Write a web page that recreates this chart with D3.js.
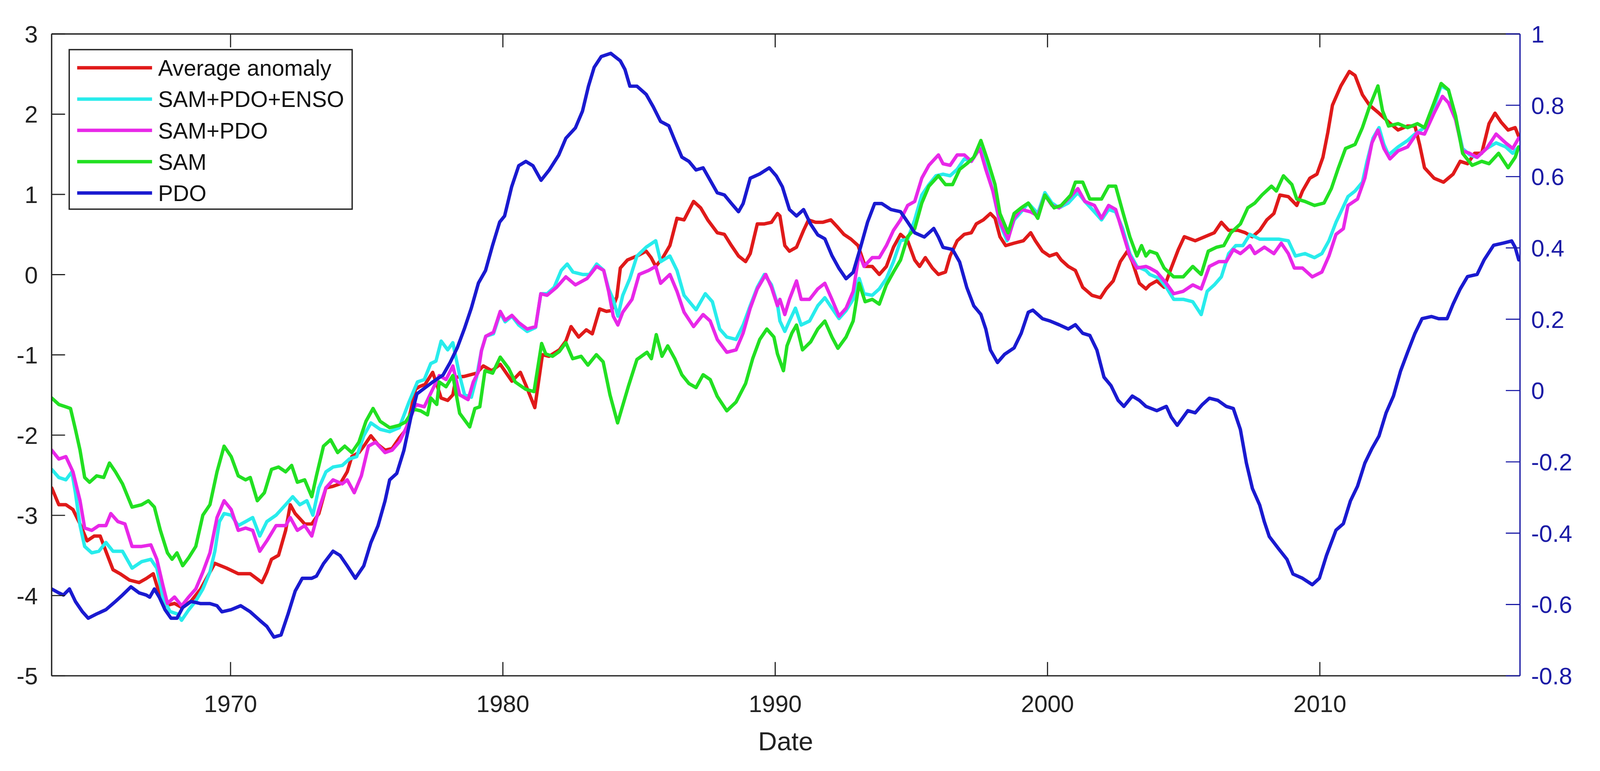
<!DOCTYPE html>
<html>
<head>
<meta charset="utf-8">
<script src="https://cdn.jsdelivr.net/npm/d3@7"></script>
<style>
  html, body { margin: 0; padding: 0; background: #fff; overflow: hidden; }
  svg { display: block; }
  text { font-family: "Liberation Sans", Arial, Helvetica, sans-serif; }
</style>
</head>
<body>
<script>
// series: [year, value]
var avgAnomaly = [
  [1963.44,-2.66],[1963.70,-2.87],[1963.96,-2.87],[1964.22,-2.93],[1964.48,-3.11],[1964.74,-3.32],[1965.00,-3.26],[1965.22,-3.26],
  [1965.43,-3.45],[1965.69,-3.68],[1965.95,-3.73],[1966.30,-3.81],[1966.65,-3.84],[1966.91,-3.79],[1967.17,-3.73],[1967.34,-3.92],
  [1967.60,-4.13],[1967.95,-4.10],[1968.21,-4.15],[1968.56,-4.07],[1968.91,-3.92],[1969.17,-3.76],[1969.43,-3.60],[1969.86,-3.66],
  [1970.29,-3.73],[1970.73,-3.73],[1971.16,-3.84],[1971.34,-3.71],[1971.51,-3.55],[1971.77,-3.50],[1972.03,-3.19],[1972.20,-2.87],
  [1972.38,-2.98],[1972.73,-3.11],[1972.99,-3.11],[1973.25,-2.98],[1973.51,-2.66],[1973.77,-2.64],[1974.03,-2.61],[1974.29,-2.46],
  [1974.46,-2.27],[1974.72,-2.22],[1974.90,-2.14],[1975.16,-2.01],[1975.42,-2.12],[1975.68,-2.19],[1975.94,-2.17],[1976.20,-2.04],
  [1976.46,-1.93],[1976.62,-1.70],[1976.80,-1.43],[1976.93,-1.40],[1977.15,-1.37],[1977.43,-1.22],[1977.55,-1.34],[1977.74,-1.54],
  [1977.98,-1.57],[1978.17,-1.50],[1978.29,-1.28],[1978.60,-1.27],[1979.04,-1.23],[1979.29,-1.14],[1979.60,-1.20],[1979.91,-1.12],
  [1980.34,-1.33],[1980.65,-1.22],[1980.84,-1.37],[1981.18,-1.66],[1981.46,-1.00],[1981.70,-1.02],[1982.08,-0.94],[1982.32,-0.83],
  [1982.51,-0.65],[1982.79,-0.78],[1983.07,-0.69],[1983.29,-0.74],[1983.56,-0.43],[1983.81,-0.46],[1984.00,-0.45],[1984.19,-0.28],
  [1984.32,0.08],[1984.58,0.18],[1984.93,0.23],[1985.27,0.29],[1985.45,0.21],[1985.62,0.10],[1985.88,0.21],
  [1986.14,0.36],[1986.40,0.70],[1986.66,0.68],[1987.01,0.91],[1987.27,0.83],[1987.53,0.68],[1987.88,0.52],[1988.14,0.50],
  [1988.40,0.36],[1988.66,0.23],[1988.92,0.16],[1989.09,0.26],[1989.35,0.63],[1989.61,0.63],[1989.87,0.65],[1990.09,0.76],
  [1990.18,0.73],[1990.36,0.36],[1990.53,0.29],[1990.79,0.34],[1991.05,0.55],[1991.23,0.68],[1991.49,0.65],[1991.75,0.65],
  [1992.05,0.68],[1992.27,0.60],[1992.53,0.50],[1992.79,0.44],[1993.05,0.36],[1993.31,0.10],[1993.57,0.10],[1993.83,0.00],
  [1994.09,0.10],[1994.35,0.34],[1994.61,0.50],[1994.87,0.42],[1995.13,0.18],[1995.31,0.10],[1995.52,0.21],[1995.78,0.08],
  [1996.00,0.00],[1996.26,0.03],[1996.43,0.23],[1996.69,0.42],[1996.95,0.50],[1997.21,0.52],[1997.39,0.63],[1997.65,0.68],
  [1997.91,0.76],[1998.08,0.70],[1998.26,0.47],[1998.47,0.36],[1998.78,0.39],[1999.12,0.42],[1999.39,0.52],[1999.56,0.42],
  [1999.82,0.29],[2000.08,0.23],[2000.34,0.26],[2000.51,0.18],[2000.77,0.10],[2001.03,0.05],[2001.30,-0.16],[2001.64,-0.26],
  [2001.95,-0.29],[2002.16,-0.18],[2002.42,-0.08],[2002.68,0.16],[2002.94,0.29],[2003.12,0.16],[2003.38,-0.11],[2003.62,-0.18],
  [2003.76,-0.13],[2004.02,-0.08],[2004.29,-0.16],[2004.55,0.08],[2004.81,0.31],[2005.03,0.47],[2005.43,0.42],[2005.78,0.47],
  [2006.13,0.52],[2006.39,0.65],[2006.66,0.55],[2007.01,0.55],[2007.27,0.52],[2007.53,0.47],[2007.80,0.55],[2008.06,0.68],
  [2008.32,0.76],[2008.54,0.99],[2008.85,0.97],[2009.16,0.86],[2009.37,1.04],[2009.64,1.20],[2009.90,1.25],[2010.12,1.46],
  [2010.30,1.77],[2010.47,2.11],[2010.78,2.35],[2011.09,2.53],[2011.30,2.48],[2011.57,2.24],[2011.83,2.11],[2012.18,2.01],
  [2012.53,1.90],[2012.88,1.80],[2013.23,1.85],[2013.50,1.85],[2013.67,1.62],[2013.85,1.33],[2014.20,1.20],[2014.55,1.15],
  [2014.90,1.25],[2015.16,1.41],[2015.43,1.38],[2015.69,1.51],[2015.95,1.51],[2016.22,1.88],[2016.44,2.01],[2016.66,1.90],
  [2016.92,1.80],[2017.18,1.83],[2017.31,1.72]
];

var samPdoEnso = [
  [1963.44,-2.43],[1963.70,-2.53],[1963.96,-2.56],[1964.18,-2.46],[1964.31,-2.72],[1964.48,-3.13],[1964.65,-3.39],[1964.91,-3.47],
  [1965.17,-3.45],[1965.43,-3.34],[1965.69,-3.45],[1966.04,-3.45],[1966.39,-3.66],[1966.74,-3.58],[1967.08,-3.55],[1967.30,-3.66],
  [1967.52,-4.02],[1967.78,-4.20],[1968.04,-4.23],[1968.21,-4.31],[1968.47,-4.18],[1968.73,-4.07],[1968.99,-3.92],[1969.25,-3.71],
  [1969.43,-3.45],[1969.60,-3.08],[1969.77,-2.98],[1970.03,-3.00],[1970.29,-3.13],[1970.56,-3.08],[1970.82,-3.03],[1971.08,-3.26],
  [1971.34,-3.08],[1971.68,-3.00],[1972.03,-2.87],[1972.29,-2.77],[1972.55,-2.87],[1972.81,-2.82],[1973.03,-3.00],[1973.25,-2.66],
  [1973.51,-2.46],[1973.77,-2.40],[1974.11,-2.38],[1974.37,-2.30],[1974.64,-2.27],[1974.90,-2.01],[1975.16,-1.85],[1975.50,-1.93],
  [1975.85,-1.96],[1976.20,-1.91],[1976.56,-1.59],[1976.87,-1.34],[1977.12,-1.31],[1977.36,-1.11],[1977.55,-1.08],[1977.74,-0.83],
  [1977.98,-0.94],[1978.17,-0.85],[1978.42,-1.26],[1978.60,-1.50],[1978.85,-1.53],[1979.04,-1.28],[1979.22,-0.95],[1979.38,-0.77],
  [1979.66,-0.74],[1979.91,-0.48],[1980.09,-0.59],[1980.34,-0.52],[1980.59,-0.63],[1980.90,-0.71],[1981.21,-0.66],[1981.40,-0.24],
  [1981.63,-0.24],[1981.89,-0.16],[1982.15,0.05],[1982.37,0.13],[1982.58,0.03],[1982.93,0.00],[1983.19,0.00],
  [1983.45,0.13],[1983.71,0.05],[1983.89,-0.18],[1984.06,-0.31],[1984.23,-0.52],[1984.41,-0.26],[1984.67,-0.05],[1984.93,0.23],
  [1985.27,0.34],[1985.62,0.42],[1985.80,0.16],[1986.14,0.23],[1986.40,0.05],[1986.66,-0.26],[1987.10,-0.44],[1987.44,-0.24],
  [1987.70,-0.34],[1987.97,-0.68],[1988.23,-0.78],[1988.57,-0.81],[1988.83,-0.63],[1989.09,-0.39],[1989.35,-0.16],[1989.61,0.00],
  [1989.87,-0.13],[1990.09,-0.37],[1990.18,-0.58],[1990.36,-0.71],[1990.53,-0.58],[1990.75,-0.42],[1990.96,-0.63],[1991.27,-0.58],
  [1991.57,-0.39],[1991.83,-0.29],[1992.09,-0.42],[1992.35,-0.55],[1992.61,-0.45],[1992.87,-0.31],[1993.09,-0.05],[1993.27,-0.24],
  [1993.57,-0.26],[1993.83,-0.18],[1994.09,-0.05],[1994.35,0.16],[1994.61,0.42],[1994.87,0.44],[1995.13,0.68],[1995.39,0.99],
  [1995.65,1.12],[1995.91,1.23],[1996.17,1.25],[1996.43,1.23],[1996.69,1.31],[1996.95,1.44],[1997.21,1.41],[1997.52,1.59],
  [1997.74,1.36],[1998.00,1.04],[1998.26,0.63],[1998.52,0.42],[1998.78,0.68],[1999.04,0.78],[1999.30,0.89],[1999.65,0.76],
  [1999.91,1.02],[2000.17,0.89],[2000.43,0.83],[2000.77,0.89],[2001.12,1.02],[2001.38,0.91],[2001.73,0.78],[2001.99,0.68],
  [2002.25,0.81],[2002.51,0.78],[2002.77,0.57],[2003.03,0.26],[2003.29,0.10],[2003.62,0.05],[2003.76,0.00],[2004.11,-0.05],
  [2004.37,-0.16],[2004.64,-0.31],[2004.99,-0.31],[2005.34,-0.34],[2005.65,-0.50],[2005.87,-0.21],[2006.13,-0.13],[2006.39,-0.03],
  [2006.66,0.26],[2006.92,0.36],[2007.18,0.36],[2007.44,0.50],[2007.80,0.44],[2008.15,0.44],[2008.50,0.44],[2008.85,0.42],
  [2009.11,0.23],[2009.46,0.26],[2009.81,0.21],[2010.08,0.26],[2010.34,0.42],[2010.60,0.65],[2010.78,0.78],[2011.04,0.97],
  [2011.30,1.04],[2011.57,1.15],[2011.74,1.41],[2011.96,1.70],[2012.18,1.83],[2012.36,1.62],[2012.53,1.49],[2012.88,1.59],
  [2013.23,1.67],[2013.50,1.75],[2013.85,1.83],[2014.20,2.09],[2014.46,2.35],[2014.73,2.30],[2014.99,1.96],[2015.25,1.57],
  [2015.51,1.49],[2015.78,1.46],[2016.13,1.57],[2016.48,1.64],[2016.83,1.59],[2017.09,1.51],[2017.31,1.59]
];

var samPdo = [
  [1963.44,-2.19],[1963.70,-2.30],[1963.96,-2.27],[1964.22,-2.46],[1964.48,-2.82],[1964.65,-3.16],[1964.91,-3.19],[1965.17,-3.13],
  [1965.43,-3.13],[1965.61,-2.98],[1965.87,-3.08],[1966.13,-3.11],[1966.39,-3.39],[1966.74,-3.39],[1967.08,-3.37],[1967.30,-3.55],
  [1967.52,-3.87],[1967.69,-4.10],[1967.95,-4.02],[1968.21,-4.13],[1968.47,-4.02],[1968.73,-3.92],[1968.99,-3.71],[1969.25,-3.47],
  [1969.51,-3.03],[1969.77,-2.82],[1970.03,-2.93],[1970.29,-3.19],[1970.56,-3.16],[1970.82,-3.19],[1971.08,-3.45],[1971.34,-3.32],
  [1971.68,-3.13],[1972.03,-3.13],[1972.20,-3.03],[1972.46,-3.19],[1972.73,-3.13],[1972.99,-3.26],[1973.25,-2.93],[1973.51,-2.66],
  [1973.77,-2.56],[1974.11,-2.61],[1974.29,-2.56],[1974.55,-2.72],[1974.81,-2.51],[1975.07,-2.14],[1975.33,-2.09],[1975.68,-2.22],
  [1975.94,-2.19],[1976.22,-2.08],[1976.50,-1.88],[1976.81,-1.62],[1977.12,-1.65],[1977.36,-1.48],[1977.67,-1.26],[1977.92,-1.31],
  [1978.17,-1.14],[1978.42,-1.50],[1978.73,-1.56],[1978.92,-1.34],[1979.10,-1.22],[1979.22,-0.95],[1979.38,-0.77],[1979.66,-0.72],
  [1979.91,-0.46],[1980.09,-0.57],[1980.34,-0.51],[1980.59,-0.60],[1980.90,-0.68],[1981.21,-0.65],[1981.40,-0.24],[1981.63,-0.26],
  [1981.98,-0.16],[1982.32,-0.03],[1982.67,-0.13],[1983.10,-0.05],[1983.45,0.10],[1983.71,0.05],[1983.89,-0.21],[1984.06,-0.52],
  [1984.23,-0.63],[1984.41,-0.47],[1984.75,-0.31],[1985.01,0.00],[1985.36,0.05],[1985.62,0.10],[1985.80,-0.11],[1986.14,0.00],
  [1986.40,-0.21],[1986.66,-0.47],[1987.01,-0.65],[1987.36,-0.50],[1987.62,-0.58],[1987.88,-0.81],[1988.23,-0.97],[1988.57,-0.94],
  [1988.83,-0.73],[1989.09,-0.42],[1989.35,-0.18],[1989.66,0.00],[1989.87,-0.16],[1990.09,-0.39],[1990.18,-0.31],[1990.36,-0.50],
  [1990.53,-0.31],[1990.79,-0.08],[1990.96,-0.31],[1991.27,-0.31],[1991.57,-0.18],[1991.83,-0.11],[1992.09,-0.31],[1992.35,-0.52],
  [1992.61,-0.42],[1992.87,-0.21],[1993.09,0.26],[1993.27,0.10],[1993.57,0.21],[1993.83,0.21],[1994.09,0.36],[1994.35,0.55],
  [1994.61,0.68],[1994.87,0.86],[1995.13,0.91],[1995.39,1.20],[1995.65,1.36],[1996.00,1.49],[1996.17,1.38],[1996.43,1.36],
  [1996.69,1.49],[1996.95,1.49],[1997.21,1.41],[1997.52,1.57],[1997.74,1.31],[1998.00,1.04],[1998.26,0.65],[1998.56,0.44],
  [1998.78,0.70],[1999.04,0.81],[1999.39,0.78],[1999.65,0.73],[1999.91,0.99],[2000.17,0.86],[2000.43,0.83],[2000.77,0.94],
  [2001.12,1.07],[2001.38,0.91],[2001.73,0.86],[2001.99,0.70],[2002.25,0.86],[2002.51,0.81],[2002.77,0.52],[2003.03,0.23],
  [2003.29,0.08],[2003.62,0.10],[2003.76,0.08],[2004.02,0.03],[2004.37,-0.11],[2004.64,-0.24],[2004.99,-0.21],[2005.34,-0.13],
  [2005.65,-0.18],[2005.95,0.10],[2006.30,0.16],[2006.57,0.16],[2006.83,0.31],[2007.09,0.26],[2007.27,0.31],[2007.44,0.36],
  [2007.62,0.26],[2007.97,0.34],[2008.32,0.26],[2008.59,0.39],[2008.85,0.26],[2009.07,0.08],[2009.37,0.08],[2009.73,-0.03],
  [2010.08,0.03],[2010.34,0.23],[2010.60,0.50],[2010.87,0.57],[2011.04,0.86],[2011.39,0.94],[2011.66,1.20],[2011.92,1.64],
  [2012.14,1.80],[2012.36,1.57],[2012.58,1.44],[2012.88,1.54],[2013.23,1.59],[2013.59,1.77],[2013.85,1.75],[2014.20,2.01],
  [2014.51,2.22],[2014.73,2.14],[2014.99,1.93],[2015.25,1.54],[2015.51,1.51],[2015.78,1.46],[2016.13,1.57],[2016.48,1.75],
  [2016.83,1.64],[2017.09,1.57],[2017.31,1.70]
];

var sam = [
  [1963.44,-1.54],[1963.70,-1.62],[1963.96,-1.65],[1964.13,-1.67],[1964.31,-1.93],[1964.48,-2.19],[1964.65,-2.53],[1964.83,-2.59],
  [1965.09,-2.51],[1965.35,-2.53],[1965.56,-2.35],[1965.78,-2.46],[1966.04,-2.61],[1966.39,-2.90],[1966.74,-2.87],[1966.99,-2.82],
  [1967.21,-2.90],[1967.43,-3.19],[1967.69,-3.47],[1967.86,-3.55],[1968.04,-3.47],[1968.25,-3.63],[1968.47,-3.53],[1968.73,-3.39],
  [1968.99,-3.00],[1969.25,-2.87],[1969.51,-2.46],[1969.77,-2.14],[1970.03,-2.27],[1970.29,-2.51],[1970.56,-2.56],[1970.73,-2.53],
  [1970.99,-2.82],[1971.25,-2.72],[1971.51,-2.43],[1971.77,-2.40],[1972.03,-2.46],[1972.25,-2.38],[1972.46,-2.59],[1972.73,-2.56],
  [1972.99,-2.77],[1973.16,-2.51],[1973.42,-2.14],[1973.68,-2.06],[1973.94,-2.22],[1974.20,-2.14],[1974.46,-2.22],[1974.72,-2.09],
  [1974.98,-1.83],[1975.24,-1.67],[1975.50,-1.83],[1975.85,-1.91],[1976.20,-1.88],[1976.43,-1.84],[1976.74,-1.68],[1976.99,-1.70],
  [1977.24,-1.75],[1977.36,-1.54],[1977.58,-1.62],[1977.67,-1.34],[1977.92,-1.40],[1978.17,-1.26],[1978.42,-1.73],[1978.79,-1.90],
  [1978.98,-1.67],[1979.16,-1.65],[1979.35,-1.20],[1979.63,-1.23],[1979.91,-1.03],[1980.22,-1.17],[1980.46,-1.34],[1980.84,-1.43],
  [1981.15,-1.46],[1981.43,-0.86],[1981.58,-0.99],[1981.83,-1.02],[1982.08,-0.96],[1982.32,-0.85],[1982.57,-1.05],[1982.88,-1.02],
  [1983.13,-1.13],[1983.44,-1.00],[1983.69,-1.09],[1983.94,-1.50],[1984.22,-1.85],[1984.62,-1.39],[1984.93,-1.06],[1985.30,-0.97],
  [1985.46,-1.05],[1985.64,-0.75],[1985.85,-1.02],[1986.06,-0.89],[1986.32,-1.05],[1986.58,-1.25],[1986.84,-1.36],[1987.10,-1.41],
  [1987.36,-1.25],[1987.62,-1.31],[1987.88,-1.52],[1988.23,-1.70],[1988.57,-1.59],[1988.92,-1.36],[1989.18,-1.05],[1989.44,-0.81],
  [1989.70,-0.68],[1989.96,-0.78],[1990.09,-0.99],[1990.31,-1.20],[1990.44,-0.89],[1990.62,-0.73],[1990.79,-0.63],[1991.01,-0.94],
  [1991.31,-0.84],[1991.57,-0.68],[1991.83,-0.58],[1992.09,-0.78],[1992.31,-0.92],[1992.61,-0.78],[1992.87,-0.58],[1993.09,-0.11],
  [1993.31,-0.34],[1993.57,-0.31],[1993.83,-0.37],[1994.09,-0.13],[1994.35,0.03],[1994.61,0.18],[1994.87,0.47],[1995.13,0.57],
  [1995.39,0.89],[1995.65,1.10],[1996.00,1.23],[1996.26,1.12],[1996.52,1.12],[1996.78,1.31],[1997.04,1.38],[1997.30,1.46],
  [1997.56,1.67],[1997.82,1.41],[1998.08,1.12],[1998.26,0.76],[1998.56,0.52],[1998.78,0.76],[1999.04,0.83],[1999.30,0.89],
  [1999.65,0.70],[1999.91,0.99],[2000.25,0.83],[2000.51,0.86],[2000.86,0.99],[2001.03,1.15],[2001.30,1.15],[2001.56,0.94],
  [2001.99,0.94],[2002.25,1.10],[2002.51,1.10],[2002.77,0.78],[2003.03,0.47],[2003.29,0.23],[2003.46,0.36],[2003.62,0.23],
  [2003.76,0.29],[2004.02,0.26],[2004.29,0.08],[2004.64,-0.03],[2004.99,-0.03],[2005.34,0.10],[2005.65,0.00],[2005.91,0.29],
  [2006.22,0.34],[2006.48,0.36],[2006.74,0.52],[2007.09,0.63],[2007.36,0.83],[2007.62,0.89],[2007.88,0.99],[2008.23,1.10],
  [2008.41,1.04],[2008.67,1.23],[2008.98,1.12],[2009.16,0.94],[2009.46,0.91],[2009.81,0.86],[2010.16,0.89],[2010.43,1.07],
  [2010.69,1.33],[2010.95,1.57],[2011.30,1.62],[2011.57,1.83],[2011.83,2.09],[2012.14,2.35],[2012.31,2.04],[2012.53,1.85],
  [2012.88,1.88],[2013.23,1.83],[2013.59,1.88],[2013.85,1.83],[2014.20,2.14],[2014.46,2.38],[2014.73,2.30],[2014.99,1.98],
  [2015.25,1.51],[2015.60,1.36],[2015.95,1.41],[2016.22,1.38],[2016.57,1.51],[2016.92,1.33],[2017.18,1.46],[2017.31,1.59]
];

// PDO goes on the right-hand axis
var pdo = [
  [1963.44,-0.557],[1963.70,-0.568],[1963.87,-0.574],[1964.09,-0.557],[1964.31,-0.592],[1964.57,-0.621],[1964.78,-0.639],[1965.09,-0.627],
  [1965.43,-0.615],[1965.78,-0.592],[1966.04,-0.574],[1966.35,-0.551],[1966.65,-0.568],[1966.91,-0.574],[1967.04,-0.580],[1967.21,-0.557],
  [1967.39,-0.580],[1967.60,-0.615],[1967.82,-0.639],[1968.04,-0.639],[1968.25,-0.609],[1968.56,-0.592],[1968.91,-0.598],[1969.25,-0.598],
  [1969.51,-0.604],[1969.69,-0.621],[1970.03,-0.615],[1970.38,-0.604],[1970.73,-0.621],[1971.08,-0.645],[1971.34,-0.662],[1971.60,-0.692],
  [1971.86,-0.686],[1972.12,-0.627],[1972.38,-0.563],[1972.64,-0.527],[1972.99,-0.527],[1973.16,-0.521],[1973.42,-0.486],[1973.77,-0.451],
  [1974.03,-0.463],[1974.29,-0.492],[1974.59,-0.527],[1974.90,-0.492],[1975.16,-0.427],[1975.42,-0.380],[1975.68,-0.310],[1975.85,-0.251],
  [1976.11,-0.233],[1976.37,-0.169],[1976.63,-0.075],[1976.85,-0.010],[1977.11,0.005],[1977.46,0.025],[1977.81,0.043],[1978.07,0.078],
  [1978.33,0.119],[1978.59,0.172],[1978.85,0.231],[1979.11,0.301],[1979.37,0.336],[1979.63,0.407],[1979.89,0.472],[1980.07,0.489],
  [1980.33,0.571],[1980.59,0.630],[1980.85,0.642],[1981.11,0.630],[1981.41,0.589],[1981.71,0.618],[1982.06,0.660],[1982.32,0.707],
  [1982.67,0.736],[1982.93,0.783],[1983.15,0.853],[1983.36,0.906],[1983.62,0.936],[1983.97,0.945],[1984.32,0.924],[1984.49,0.900],
  [1984.67,0.853],[1984.93,0.853],[1985.27,0.830],[1985.53,0.795],[1985.80,0.754],[1986.10,0.742],[1986.32,0.701],[1986.58,0.654],
  [1986.84,0.642],[1987.10,0.618],[1987.36,0.624],[1987.62,0.589],[1987.88,0.554],[1988.14,0.548],[1988.40,0.524],[1988.66,0.501],
  [1988.83,0.524],[1989.09,0.595],[1989.44,0.607],[1989.79,0.624],[1990.05,0.601],[1990.27,0.571],[1990.53,0.507],[1990.79,0.489],
  [1991.05,0.507],[1991.31,0.466],[1991.57,0.436],[1991.83,0.425],[1992.09,0.378],[1992.35,0.342],[1992.61,0.313],[1992.87,0.331],
  [1993.14,0.401],[1993.40,0.472],[1993.66,0.524],[1993.92,0.524],[1994.26,0.507],[1994.61,0.501],[1994.87,0.472],[1995.13,0.442],
  [1995.48,0.430],[1995.83,0.454],[1996.00,0.430],[1996.17,0.401],[1996.52,0.395],[1996.78,0.360],[1997.04,0.289],[1997.30,0.237],
  [1997.56,0.213],[1997.74,0.172],[1997.91,0.113],[1998.17,0.078],[1998.43,0.101],[1998.78,0.119],[1999.04,0.160],[1999.30,0.219],
  [1999.47,0.225],[1999.82,0.201],[2000.08,0.195],[2000.43,0.184],[2000.77,0.172],[2001.03,0.184],[2001.30,0.160],[2001.56,0.154],
  [2001.82,0.113],[2002.08,0.037],[2002.34,0.013],[2002.60,-0.028],[2002.81,-0.045],[2003.12,-0.016],[2003.38,-0.028],[2003.62,-0.045],
  [2004.02,-0.057],[2004.37,-0.045],[2004.55,-0.075],[2004.77,-0.098],[2005.16,-0.057],[2005.43,-0.063],[2005.69,-0.040],[2005.95,-0.022],
  [2006.26,-0.028],[2006.57,-0.045],[2006.83,-0.051],[2007.09,-0.110],[2007.31,-0.204],[2007.53,-0.275],[2007.80,-0.322],[2007.97,-0.369],
  [2008.15,-0.410],[2008.50,-0.445],[2008.80,-0.474],[2009.02,-0.515],[2009.37,-0.527],[2009.73,-0.545],[2009.99,-0.527],[2010.25,-0.463],
  [2010.60,-0.392],[2010.87,-0.374],[2011.13,-0.310],[2011.39,-0.269],[2011.66,-0.204],[2011.92,-0.163],[2012.18,-0.128],[2012.44,-0.063],
  [2012.71,-0.016],[2012.97,0.054],[2013.23,0.107],[2013.50,0.160],[2013.76,0.201],[2014.11,0.207],[2014.37,0.201],[2014.68,0.201],
  [2014.90,0.242],[2015.16,0.284],[2015.43,0.319],[2015.78,0.325],[2016.04,0.366],[2016.39,0.407],[2016.74,0.413],[2017.05,0.419],
  [2017.18,0.401],[2017.31,0.366]
];

var legendLabels = ["Average anomaly", "SAM+PDO+ENSO", "SAM+PDO", "SAM", "PDO"];
var xTicks = [1970, 1980, 1990, 2000, 2010];
var leftTicks = [-5, -4, -3, -2, -1, 0, 1, 2, 3];
var rightTicks = [-0.8, -0.6, -0.4, -0.2, 0, 0.2, 0.4, 0.6, 0.8, 1];

var W = 4230, H = 1975;
var margin = {top: 57, right: 212, bottom: 220, left: 136};
var width = W - margin.left - margin.right,
    height = H - margin.top - margin.bottom;

var axisBlue = "#1c1ca6";
var tickFont = 63;

// viewBox so the whole figure fits whatever the viewport turns out to be
var svg = d3.select("body").append("svg")
    .attr("viewBox", "0 0 " + W + " " + H)
    .attr("preserveAspectRatio", "xMidYMid meet")
    .style("width", "100vw")
    .style("height", "100vh");

svg.append("rect").attr("width", W).attr("height", H).attr("fill", "#fff");

var g = svg.append("g")
    .attr("transform", "translate(" + margin.left + "," + margin.top + ")");

var x = d3.scaleLinear().domain([1963.43, 2017.35]).range([0, width]);
var yL = d3.scaleLinear().domain([-5, 3]).range([height, 0]);
var yR = d3.scaleLinear().domain([-0.8, 1]).range([height, 0]);

g.append("clipPath").attr("id", "plotclip")
  .append("rect").attr("width", width).attr("height", height);

var series = [
  {data: avgAnomaly, color: "#e01a1a", y: yL},
  {data: samPdoEnso, color: "#28ecec", y: yL},
  {data: samPdo,     color: "#e828e8", y: yL},
  {data: sam,        color: "#22e022", y: yL},
  {data: pdo,        color: "#1a1ad0", y: yR}
];

var lines = g.append("g").attr("clip-path", "url(#plotclip)");
series.forEach(function(s) {
  var line = d3.line()
      .x(function(d) { return x(d[0]); })
      .y(function(d) { return s.y(d[1]); });
  lines.append("path")
      .datum(s.data)
      .attr("fill", "none")
      .attr("stroke", s.color)
      .attr("stroke-width", 9)
      .attr("stroke-linejoin", "round")
      .attr("stroke-linecap", "round")
      .attr("d", line);
});

// plain hyphen for negatives, like the original
function num(d) { return String(+d.toFixed(1)); }

function styleAxis(sel, color) {
  sel.select(".domain").attr("stroke", color).attr("stroke-width", 3.5);
  sel.selectAll(".tick line").attr("stroke", color).attr("stroke-width", 3);
  sel.selectAll(".tick text")
      .attr("fill", color)
      .style("font-size", tickFont + "px")
      .style("font-family", "'Liberation Sans', Arial, sans-serif");
}

// bottom and top
var xb = g.append("g")
    .attr("transform", "translate(0," + height + ")")
    .call(d3.axisBottom(x).tickValues(xTicks).tickFormat(num)
      .tickSize(-36).tickSizeOuter(0).tickPadding(52));
styleAxis(xb, "#222");

var xt = g.append("g")
    .call(d3.axisTop(x).tickValues(xTicks).tickFormat("")
      .tickSize(-36).tickSizeOuter(0));
styleAxis(xt, "#222");

// left axis
var yl = g.append("g")
    .call(d3.axisLeft(yL).tickValues(leftTicks).tickFormat(num)
      .tickSize(-36).tickSizeOuter(0).tickPadding(36));
styleAxis(yl, "#222");
yl.selectAll(".tick text").attr("dy", "0.36em");

// right axis (PDO)
var yr = g.append("g")
    .attr("transform", "translate(" + width + ",0)")
    .call(d3.axisRight(yR).tickValues(rightTicks).tickFormat(num)
      .tickSize(-37).tickSizeOuter(0).tickPadding(30));
styleAxis(yr, axisBlue);
yr.selectAll(".tick text").attr("dy", "0.36em");

// x label
g.append("text")
    .attr("x", width / 2)
    .attr("y", height + 198)
    .attr("text-anchor", "middle")
    .attr("fill", "#222")
    .style("font-size", "69px")
    .text("Date");

// legend
var leg = g.append("g").attr("transform", "translate(47,42)");
leg.append("rect")
    .attr("width", 748)
    .attr("height", 422)
    .attr("fill", "#fff")
    .attr("stroke", "#222")
    .attr("stroke-width", 3.5);

legendLabels.forEach(function(label, i) {
  var yy = 48 + i * 82.8;
  leg.append("line")
      .attr("x1", 21).attr("x2", 219)
      .attr("y1", yy).attr("y2", yy)
      .attr("stroke", series[i].color)
      .attr("stroke-width", 9);
  leg.append("text")
      .attr("x", 235)
      .attr("y", yy)
      .attr("dy", "0.36em")
      .attr("fill", "#111")
      .style("font-size", "59px")
      .text(label);
});
</script>
</body>
</html>
